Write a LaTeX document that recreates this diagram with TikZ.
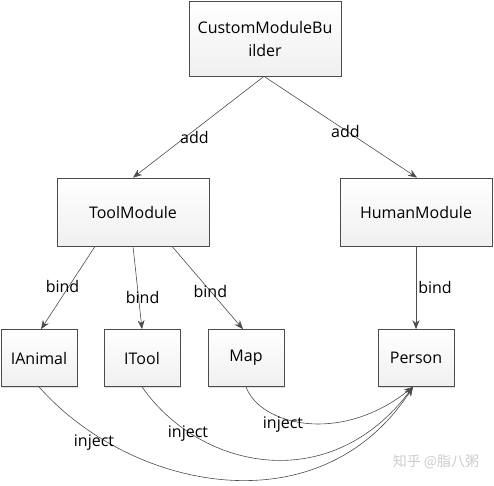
\documentclass[tikz,border=0pt]{standalone}
\usepackage{fontspec}
\setmainfont{Open Sans}
\newfontfamily\cjk{Noto Sans CJK SC}
\usetikzlibrary{arrows.meta,shadows}
\begin{document}
\begin{tikzpicture}[x=1pt,y=-1pt,
    box/.style={draw=black!70,line width=0.7pt,top color=white,bottom color=gray!12,
      drop shadow={shadow xshift=1.2pt,shadow yshift=-1.2pt,opacity=0.25},
      font=\fontsize{16}{23}\selectfont,align=center,inner sep=0pt},
    link/.style={draw=black!70,line width=0.6pt,-{Stealth[length=9pt,width=7pt]}},
    lbl/.style={font=\fontsize{16}{18}\selectfont,inner sep=0pt}]
  \useasboundingbox (0,0) rectangle (494,485);
  \node[box,minimum width=152pt,minimum height=75pt] (builder) at (265,38.5) {CustomModuleBu\\ilder};
  \node[box,minimum width=152pt,minimum height=68pt] (toolmodule) at (133,212) {ToolModule};
  \node[box,minimum width=152pt,minimum height=68pt] (humanmodule) at (416,212) {HumanModule};
  \node[box,minimum width=76pt,minimum height=57pt] (ianimal) at (39,358) {IAnimal};
  \node[box,minimum width=76pt,minimum height=57pt] (itool) at (142,358) {ITool};
  \node[box,minimum width=76pt,minimum height=57pt] (map) at (246,358) {Map};
  \node[box,minimum width=76pt,minimum height=57pt] (person) at (416,358) {Person};
  % add
  \draw[link] ([xshift=-1pt]builder.south) -- (toolmodule.north) node[lbl,pos=0.6,xshift=9pt] (add1) {add};
  \draw[link] ([xshift=-1pt]builder.south) -- ([xshift=1pt]humanmodule.north) node[lbl,pos=0.545,xshift=-2pt] (add2) {add};
  % bind
  \draw[link] ([xshift=-38pt]toolmodule.south) -- ([xshift=2pt]ianimal.north) node[lbl,pos=0.49,xshift=-6pt] (bind1) {bind};
  \draw[link] (toolmodule.south) -- (itool.north) node[lbl,pos=0.62,xshift=4pt] (bind2) {bind};
  \draw[link] ([xshift=39pt]toolmodule.south) -- ([xshift=-3pt]map.north) node[lbl,pos=0.54] (bind3) {bind};
  \draw[link] (humanmodule.south) -- (person.north) node[lbl,pos=0.5,anchor=west,xshift=2pt] (bind4) {bind};
  % inject
  \draw[link] (ianimal.south) .. controls (130,490) and (320,530) .. ([xshift=-3pt]person.south);
  \draw[link] (itool.south) .. controls (200,470) and (330,497) .. ([xshift=-3pt]person.south);
  \draw[link] (map.south) .. controls (260,425) and (340,445) .. ([xshift=-3pt]person.south);
  \node[lbl] (inject1) at (94,443) {inject};
  \node[lbl] (inject2) at (188,434) {inject};
  \node[lbl] (inject3) at (283,425) {inject};
  \node[text=gray!40,font=\fontsize{14}{16}\selectfont] (mark) at (436,462) {\cjk 知乎 @脂八粥};
\end{tikzpicture}
\end{document}
